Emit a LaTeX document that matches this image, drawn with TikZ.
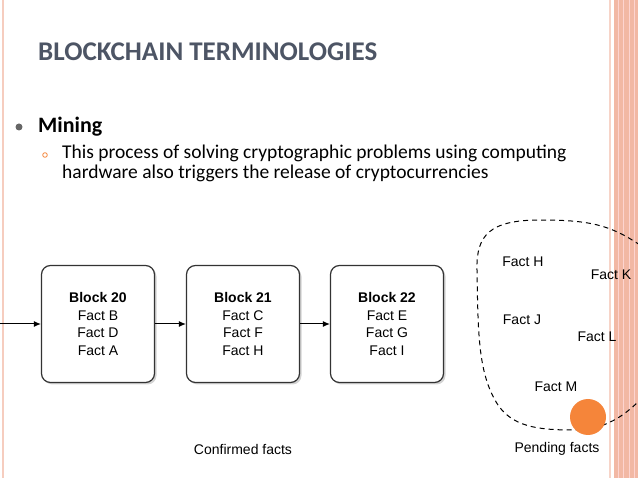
\documentclass[tikz,border=0pt]{standalone}
\usepackage{fontspec}
\setmainfont{Carlito}
\newfontfamily\hv{Liberation Sans}
\usetikzlibrary{arrows.meta,shadows}
\definecolor{salmon}{HTML}{F2B8A4}
\definecolor{titlec}{HTML}{4D5565}
\definecolor{orng}{HTML}{F5853A}
\tikzset{
  blk/.style={draw=black!80,line width=1.2pt,rounded corners=9pt,fill=white,minimum width=113pt,minimum height=117pt,drop shadow={shadow xshift=2pt,shadow yshift=-2pt,opacity=0.35}},
  conn/.style={-{Latex[length=7pt,width=6pt]},line width=1pt},
  txt/.style={font=\hv\fontsize{14}{17.5}\selectfont,align=center},
  fact/.style={font=\hv\fontsize{14}{17}\selectfont}
}
\begin{document}
\begin{tikzpicture}[x=1pt,y=-1pt]
\useasboundingbox (0,0) rectangle (638,478);
\clip (0,0) rectangle (638,478);
% borders
\fill[salmon!70] (2,0) rectangle (4,478);
\fill[salmon!60] (609,0) rectangle (611,478);
\fill[salmon] (614,0) rectangle (638,478);
\foreach \x in {618,623,629,634} \fill[salmon!60!red!30] (\x,0) rectangle (\x+1.2,478);
% title text
\node[anchor=base west,text=titlec,font=\bfseries\fontsize{27}{30}\selectfont,inner sep=0pt] (title) at (38,61) {BLOCKCHAIN TERMINOLOGIES};
\fill[black!60] (19,127) circle (3.5);
\node[anchor=base west,font=\bfseries\fontsize{22}{26}\selectfont,inner sep=0pt] (mining) at (38,133) {Mining};
\draw[orng,line width=0.8pt] (45,155) circle (2.3);
\node[anchor=north west,align=left,font=\fontsize{19.5}{19.5}\selectfont,inner sep=0pt] (desc) at (62,145) {This process of solving cryptographic problems using computing\\hardware also triggers the release of cryptocurrencies};
% blocks
\node[blk,txt] (b20) at (98,324) {\textbf{Block 20}\\Fact B\\Fact D\\Fact A};
\node[blk,txt] (b21) at (243,324) {\textbf{Block 21}\\Fact C\\Fact F\\Fact H};
\node[blk,txt] (b22) at (387,324) {\textbf{Block 22}\\Fact E\\Fact G\\Fact I};
\coordinate (in) at (0,324);
\draw[conn] (in) -- (b20);
\draw[conn] (b20) -- (b21);
\draw[conn] (b21) -- (b22);
% pending blob
\draw[dashed,line width=1pt,dash pattern=on 5pt off 4pt] (640,245) .. controls (610,225) and (590,220) .. (540,220)
  .. controls (490,220) and (476,235) .. (477,270)
  .. controls (478,330) and (478,370) .. (495,400)
  .. controls (510,428) and (540,430) .. (575,430)
  .. controls (605,430) and (625,415) .. (640,400);
\fill[orng] (588,417) circle (18);
\node[fact] (fh) at (523,262) {Fact H};
\node[fact] (fk) at (611,275) {Fact K};
\node[fact] (fj) at (522,320) {Fact J};
\node[fact] (fl) at (597,337) {Fact L};
\node[fact] (fm) at (556,387) {Fact M};
\node[fact] (conf) at (243,449) {Confirmed facts};
\node[fact] (pend) at (557,449) {Pending facts};
\end{tikzpicture}
\end{document}
